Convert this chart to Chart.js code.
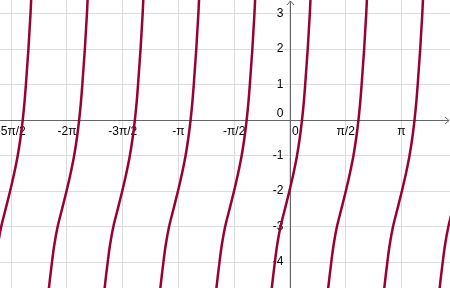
<!DOCTYPE html>
<html>
<head>
<meta charset="utf-8">
<script src="https://cdn.jsdelivr.net/npm/chart.js@4.4.0/dist/chart.umd.min.js"></script>
<style>
  html, body { margin: 0; padding: 0; background: #fff; }
  #wrap { width: 450px; height: 288px; }
</style>
</head>
<body>
<div id="wrap"><canvas id="graph"></canvas></div>
<script>
// one branch of the curve:
// y level and its x offset from the point where the branch crosses y = 0
const branchY  = [-5.5, -4.72, -4, -3.5, -3, -2.5, -2, -1.5, -1, -0.5, 0, 0.5, 1, 2, 3, 3.4, 4];
const branchDx = [-0.924, -0.85, -0.765, -0.697, -0.605, -0.48, -0.355, -0.24, -0.14, -0.062, 0, 0.05, 0.090, 0.161, 0.220, 0.239, 0.270];

// x where each branch crosses the x axis
const branchZeros = [-7.53, -5.94, -4.37, -2.80, -1.22, 0.34, 1.93, 3.51, 5.07];

// ticks
const xTickValues = [-5 * Math.PI / 2, -2 * Math.PI, -3 * Math.PI / 2, -Math.PI, -Math.PI / 2, 0, Math.PI / 2, Math.PI];
const xTickLabels = ['-5π/2', '-2π', '-3π/2', '-π', '-π/2', '0', 'π/2', 'π'];
const yTickValues = [-4, -3, -2, -1, 0, 1, 2, 3];
const yTickLabels = ['-4', '-3', '-2', '-1', '0', '1', '2', '3'];

// visible window
const X_MIN = -8.17, X_MAX = 4.51;
const Y_MIN = -4.73, Y_MAX = 3.38;

const CURVE_COLOR = 'rgb(153, 0, 51)';

// each branch is smoothed as x(y), so steep parts stay round
const datasets = branchZeros.map(z => ({
  data: branchY.map((y, i) => ({ x: z + branchDx[i], y: y })),
  borderColor: CURVE_COLOR,
  borderWidth: 2.5,
  pointRadius: 0,
  cubicInterpolationMode: 'monotone',
  fill: false
}));

// axes through the origin, arrow heads and tick labels (GeoGebra look)
const axesPlugin = {
  id: 'axes',
  beforeDatasetsDraw(chart) {
    const { ctx, chartArea: a, scales: { x, y } } = chart;
    const ox = Math.round(x.getPixelForValue(0)) + 0.5;
    const oy = Math.round(y.getPixelForValue(0)) + 0.5;
    ctx.save();
    ctx.strokeStyle = '#666666';
    ctx.lineWidth = 1;
    ctx.beginPath();
    ctx.moveTo(a.left, oy); ctx.lineTo(a.right - 1, oy);
    ctx.moveTo(ox, a.bottom); ctx.lineTo(ox, a.top + 1);
    ctx.moveTo(a.right - 5, oy - 3.5); ctx.lineTo(a.right - 1, oy); ctx.lineTo(a.right - 5, oy + 3.5);
    ctx.moveTo(ox - 3.5, a.top + 5); ctx.lineTo(ox, a.top + 1); ctx.lineTo(ox + 3.5, a.top + 5);
    ctx.stroke();

    ctx.fillStyle = '#000';
    ctx.font = '12px "Liberation Sans", Arial, sans-serif';
    ctx.textBaseline = 'middle';
    ctx.textAlign = 'center';
    xTickValues.forEach((v, i) => {
      let px = x.getPixelForValue(v);
      if (v === 0) px += 5.5;
      ctx.fillText(xTickLabels[i], px, oy + 11);
    });
    ctx.textAlign = 'right';
    yTickValues.forEach((v, i) => {
      let py = y.getPixelForValue(v);
      if (v === 0) py -= 6;
      ctx.fillText(yTickLabels[i], ox - 7, py);
    });
    ctx.restore();
  }
};

new Chart(document.getElementById('graph'), {
  type: 'line',
  data: { datasets: datasets },
  options: {
    indexAxis: 'y',
    animation: false,
    responsive: true,
    maintainAspectRatio: false,
    layout: { padding: 0 },
    plugins: { legend: { display: false }, tooltip: { enabled: false } },
    scales: {
      x: {
        type: 'linear',
        min: X_MIN,
        max: X_MAX,
        afterBuildTicks: axis => { axis.ticks = xTickValues.map(v => ({ value: v })); },
        ticks: { display: false },
        grid: { color: '#dcdcdc', drawTicks: false },
        border: { display: false }
      },
      y: {
        type: 'linear',
        min: Y_MIN,
        max: Y_MAX,
        afterBuildTicks: axis => { axis.ticks = yTickValues.map(v => ({ value: v })); },
        ticks: { display: false },
        grid: { color: '#dcdcdc', drawTicks: false },
        border: { display: false }
      }
    }
  },
  plugins: [axesPlugin]
});
</script>
</body>
</html>
